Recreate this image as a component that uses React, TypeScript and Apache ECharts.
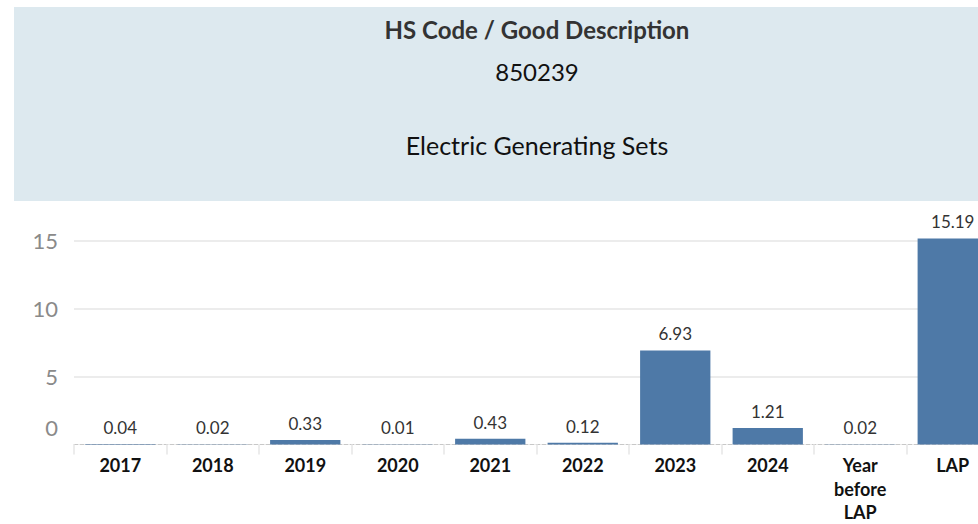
import React, { useEffect, useRef } from "react";
import * as echarts from "echarts";

const categories = ["2017", "2018", "2019", "2020", "2021", "2022", "2023", "2024", "Year\nbefore\nLAP", "LAP"];
const values = [0.04, 0.02, 0.33, 0.01, 0.43, 0.12, 6.93, 1.21, 0.02, 15.19];
const yTicks = [0, 5, 10, 15];
const headerTitle = "HS Code / Good Description";
const headerCode = "850239";
const headerDesc = "Electric Generating Sets";

export default function App() {
  const ref = useRef<HTMLDivElement>(null);
  useEffect(() => {
    document.body.style.margin = "0";
    const chart = echarts.init(ref.current!, null, { renderer: "svg" });
    const font = "Lato";
    chart.setOption({
      animation: false,
      backgroundColor: "#ffffff",
      graphic: [
        { type: "rect", shape: { x: 14, y: 7, width: 1000, height: 194 }, style: { fill: "#dde9ef" }, z: 0 },
        { type: "text", x: 537, y: 29, style: { text: headerTitle, font: `bold 24px ${font}`, fill: "#333333", textAlign: "center", textVerticalAlign: "middle" } },
        { type: "text", x: 537, y: 71, style: { text: headerCode, font: `24px ${font}`, fill: "#111111", textAlign: "center", textVerticalAlign: "middle" } },
        { type: "text", x: 537, y: 145, style: { text: headerDesc, font: `25px ${font}`, fill: "#111111", textAlign: "center", textVerticalAlign: "middle" } },
      ],
      grid: { left: 74, right: -21, top: 227.4, bottom: 79.5, containLabel: false, outerBoundsMode: "none" },
      xAxis: {
        type: "category",
        data: categories,
        axisLine: { show: true, lineStyle: { color: "#c8c8c8", type: "dashed", width: 1 } },
        axisTick: { show: true, interval: 0, length: 10, lineStyle: { color: "#ececec", width: 2 } },
        axisLabel: { interval: 0, fontFamily: font, fontWeight: "bold", fontSize: 18, color: "#111111", lineHeight: 23.5, margin: 9, verticalAlign: "top" },
      },
      yAxis: {
        type: "value",
        min: 0,
        max: 16,
        interval: 5,
        axisLine: { show: false },
        axisTick: { show: false },
        splitLine: { show: true, showMinLine: false, showMaxLine: false, lineStyle: { color: "#ececec", width: 2 } },
        axisLabel: {
          showMaxLabel: false,
          margin: 16,
          fontFamily: font,
          fontSize: 22,
          color: "#8a8a8a",
          formatter: (v: number) => (yTicks.includes(v) ? (v === 0 ? "{z|0}" : String(v)) : ""),
          rich: { z: { fontFamily: font, fontSize: 22, color: "#8a8a8a", padding: [0, 0, 35, 0] } },
        },
      },
      series: [
        {
          type: "bar",
          data: values,
          barWidth: "76%",
          itemStyle: { color: "#4e79a7" },
          label: { show: true, position: "top", distance: 8, fontFamily: font, fontSize: 17, color: "#333333", formatter: (p: any) => p.value.toFixed(2) },
        },
      ],
    });
    return () => chart.dispose();
  }, []);
  return <div ref={ref} style={{ width: 978, height: 524 }} />;
}
